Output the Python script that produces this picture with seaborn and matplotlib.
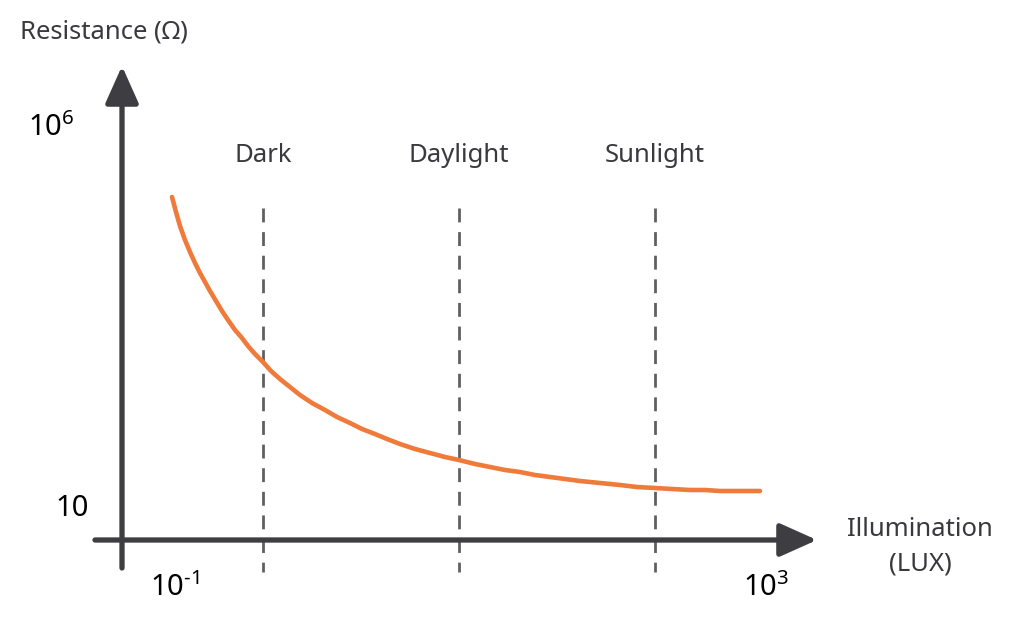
import matplotlib
matplotlib.use('Agg')
import matplotlib.pyplot as plt
import seaborn as sns
import pandas as pd

# Schematic curve, in picture units (x grows right, y grows down)
curve_x = [172, 176, 180, 185, 190, 195, 200, 205, 210, 216, 222, 228, 235, 242, 248, 255, 263,
           271, 280, 290, 300, 312, 325, 337, 350, 362, 375, 387, 400, 415, 430, 445,
           459, 475, 490, 505, 520, 535, 550, 565, 580, 600, 620, 637, 655, 672, 690, 705,
           720, 740, 760]
curve_y = [197, 212, 226, 240, 252, 263, 273, 282, 291, 301, 311, 320, 330, 338, 346, 354, 362,
           371, 379, 387, 395, 403, 410, 417, 423, 429, 434, 439, 444, 449, 453, 457,
           460, 464, 467, 470, 472, 475, 477, 479, 481, 483, 485, 487, 488, 489, 490, 490,
           491, 491, 491]
regions = ['Dark', 'Daylight', 'Sunlight']
region_x = [263, 459, 655]

df = pd.DataFrame({'x': curve_x, 'y': curve_y})

sns.set_theme(style='white')
plt.rcParams['font.family'] = ['Noto Sans', 'DejaVu Sans']
plt.rcParams['mathtext.fontset'] = 'custom'
plt.rcParams['mathtext.rm'] = 'Noto Sans'
txt = '#3a3a3e'

fig = plt.figure(figsize=(10.24, 6.17), dpi=100)
ax = fig.add_axes([0, 0, 1, 1])
ax.set_xlim(0, 1024)
ax.set_ylim(617, 0)
ax.axis('off')

# dashed region markers
for x, name in zip(region_x, regions):
    ax.plot([x, x], [208, 572], color='#606064', lw=2, ls=(0, (5, 3.5)))
    ax.text(x, 155, name, ha='center', va='center', fontsize=18.5, color=txt, weight='medium')

sns.lineplot(data=df, x='x', y='y', ax=ax, color='#F07A3A', lw=3.3, sort=False)

# axes arrows
ap = dict(arrowstyle='-|>,head_length=1.9,head_width=0.85', color='#3d3d42', lw=3.8,
          shrinkA=0, shrinkB=0)
ax.annotate('', xy=(122, 66), xytext=(122, 568), arrowprops=ap)
ax.annotate('', xy=(817, 540), xytext=(95, 540), arrowprops=ap)

ax.text(20, 32, 'Resistance (Ω)', fontsize=18.5, color=txt, va='center', weight='medium')
ax.text(28, 128, r'10$^{6}$', fontsize=21, color='black', va='center', weight='medium')
ax.text(55, 508, '10', fontsize=21, color='black', va='center', weight='medium')
ax.text(150, 588, '10$^{\\text{-}1}$', fontsize=21, color='black', va='center', weight='medium')
ax.text(743, 588, r'10$^{3}$', fontsize=21, color='black', va='center', weight='medium')
ax.text(920, 547, 'Illumination\n(LUX)', fontsize=18.5, color=txt, ha='center', va='center',
        linespacing=1.5, weight='medium')

fig.savefig('out.png', dpi=100)
